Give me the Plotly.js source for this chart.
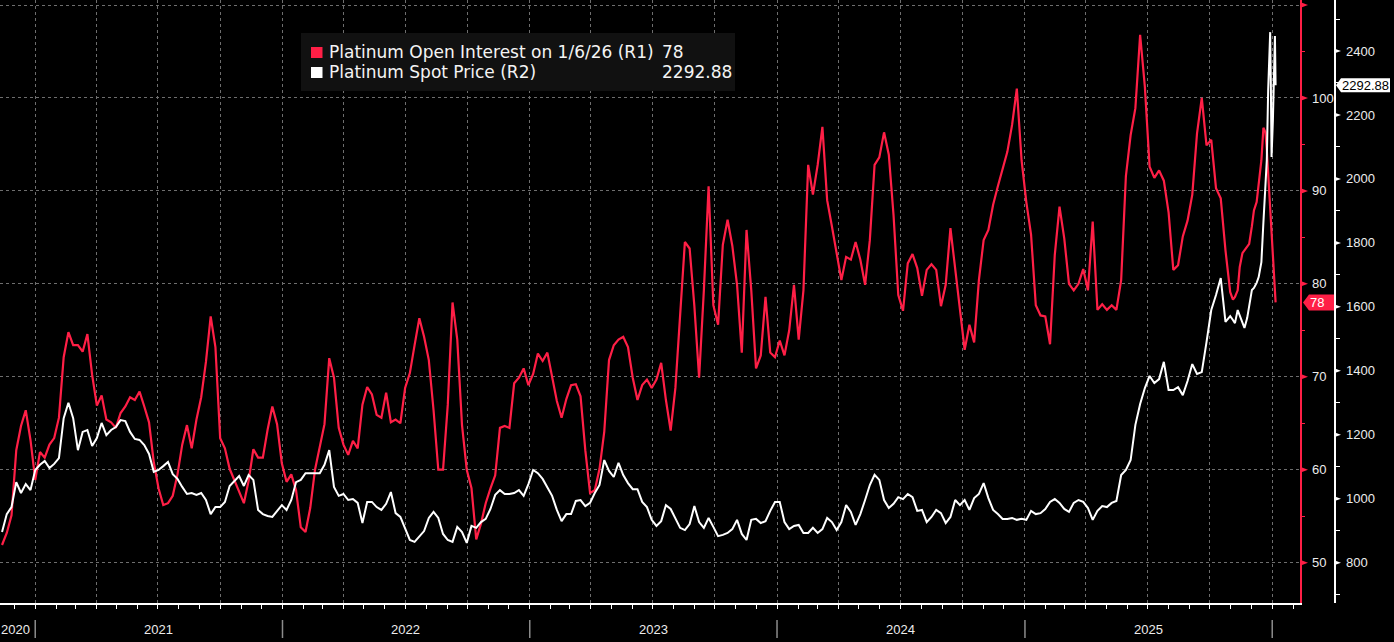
<!DOCTYPE html>
<html>
<head>
<meta charset="utf-8">
<script src="https://cdn.plot.ly/plotly-3.0.1.min.js"></script>
<style>
html,body{margin:0;padding:0;background:#000;overflow:hidden;}
#chart{width:1394px;height:642px;}
</style>
</head>
<body>
<div id="chart"></div>
<script>
// ---------------- DATA ----------------
// weekly samples (Fridays) starting at this date
const weeklyStart = '2020-11-13';

// Platinum Open Interest (R1), weekly
const openInterestWeekly = [
  51.9, 53.2, 55.1, 62.1, 64.7, 66.4, 63.2, 58.9, 61.9, 61.3,
  62.7, 63.4, 65.6, 72.1, 74.8, 73.4, 73.4, 72.7, 74.6, 70.2,
  66.9, 68.0, 65.4, 65.1, 64.5, 66.1, 66.8, 67.8, 67.5, 68.4,
  66.8, 65.1, 60.8, 58.0, 56.2, 56.4, 57.2, 59.5, 62.7, 64.8,
  62.3, 65.4, 67.8, 71.6, 76.5, 73.2, 63.4, 62.3, 60.1, 58.8,
  57.5, 56.4, 58.8, 62.2, 61.3, 61.3, 64.3, 66.8, 64.9, 60.7,
  58.7, 59.5, 57.8, 53.8, 53.3, 55.9, 60.0, 62.3, 64.9, 72.0,
  69.9, 64.5, 62.7, 61.6, 63.1, 62.3, 67.0, 68.9, 68.1, 65.9,
  65.6, 68.3, 65.1, 65.4, 65.0, 68.8, 70.4, 73.4, 76.3, 74.3,
  71.8, 66.4, 60.0, 60.0, 67.0, 78.0, 74.0, 64.8, 60.0, 58.0,
  52.5, 54.2, 56.4, 58.0, 59.4, 64.5, 64.7, 64.5, 69.3, 69.9,
  70.9, 69.1, 70.3, 72.5, 71.7, 72.6, 69.8, 67.4, 65.6, 67.6,
  69.1, 69.2, 67.9, 62.1, 57.5, 57.8, 60.1, 64.1, 71.8, 73.4,
  74.0, 74.3, 73.2, 69.9, 67.5, 69.1, 69.7, 68.8, 69.7, 71.5,
  67.5, 64.2, 68.8, 76.9, 84.5, 83.8, 77.6, 69.9, 79.3, 90.5,
  77.7, 75.6, 84.2, 86.9, 84.1, 79.9, 72.6, 85.8, 79.3, 70.9,
  72.3, 78.6, 72.6, 72.1, 73.9, 72.3, 75.0, 79.9, 74.0, 79.3,
  92.8, 89.6, 92.8, 96.9, 89.0, 86.2, 83.1, 80.4, 82.9, 82.6,
  84.5, 82.6, 79.9, 84.7, 92.8, 93.6, 96.3, 93.9, 87.4, 78.8,
  77.1, 82.2, 83.2, 81.7, 78.7, 81.5, 82.1, 81.5, 77.6, 79.9,
  86.0, 81.5, 77.0, 72.9, 75.6, 73.7, 80.4, 84.7, 85.8, 88.5,
  90.5, 92.5, 94.2, 97.1, 101.0, 93.3, 88.8, 85.3, 77.7, 76.6,
  76.5, 73.5, 83.1, 88.3, 84.9, 80.0, 79.3, 80.0, 81.6, 79.3,
  86.7, 77.2, 77.8, 77.2, 77.7, 77.2, 80.4, 91.6, 96.0, 98.9,
  106.8, 101.2, 92.6, 91.4, 92.2, 91.1, 87.7, 81.5, 82.0, 85.1,
  86.8, 89.6, 96.2, 100.0, 94.9, 95.5, 90.3, 89.2, 83.6, 79.1
];

// Platinum Spot Price (R2), weekly
const spotWeekly = [
  896, 952, 974, 1052, 1018, 1046, 1027, 1090, 1106, 1118,
  1096, 1109, 1127, 1252, 1300, 1252, 1152, 1209, 1215, 1165,
  1190, 1237, 1199, 1215, 1224, 1246, 1243, 1209, 1187, 1184,
  1168, 1140, 1084, 1090, 1102, 1115, 1077, 1062, 1037, 1015,
  1018, 1012, 1018, 996, 952, 974, 974, 990, 1040, 1055,
  1071, 1040, 1074, 1059, 965, 952, 946, 943, 962, 980,
  965, 996, 1052, 1059, 1080, 1080, 1080, 1080, 1106, 1152,
  1037, 1009, 1015, 996, 999, 987, 924, 990, 990, 974,
  965, 984, 1021, 955, 943, 909, 871, 865, 883, 899,
  940, 959, 940, 890, 871, 865, 912, 896, 862, 915,
  909, 927, 937, 968, 1012, 1027, 1015, 1015, 1018, 1027,
  1009, 1046, 1090, 1080, 1062, 1037, 1009, 965, 930, 952,
  952, 993, 996, 977, 987, 1018, 1043, 1121, 1087, 1068,
  1112, 1074, 1049, 1030, 1030, 990, 974, 934, 915, 930,
  980, 968, 937, 909, 902, 921, 977, 927, 909, 940,
  912, 883, 887, 893, 905, 934, 890, 871, 934, 937,
  924, 930, 962, 990, 990, 927, 905, 915, 918, 893,
  893, 909, 893, 905, 940, 927, 902, 927, 980, 959,
  918, 952, 996, 1043, 1075, 1059, 996, 971, 984, 1005,
  999, 1015, 1005, 962, 965, 927, 943, 965, 955, 924,
  943, 996, 980, 996, 965, 1002, 1015, 1049, 1002, 965,
  952, 937, 937, 940, 934, 937, 934, 962, 952, 955,
  968, 990, 999, 987, 968, 959, 987, 996, 990, 971,
  934, 962, 977, 974, 987, 993, 1074, 1090, 1121, 1231,
  1296, 1346, 1384, 1362, 1374, 1428, 1340, 1340, 1349, 1324,
  1368, 1421, 1390, 1396, 1490, 1590, 1637, 1690, 1553, 1571
];

// last weeks, sampled more densely
const tailDates = [
  '2025-11-04','2025-11-07','2025-11-11','2025-11-14','2025-11-18','2025-11-21',
  '2025-11-25','2025-11-28','2025-12-02','2025-12-05','2025-12-09','2025-12-12',
  '2025-12-16','2025-12-19','2025-12-22','2025-12-24','2025-12-26','2025-12-29',
  '2025-12-30','2025-12-31','2026-01-02','2026-01-05','2026-01-06'
];
const openInterestTail = [
  78.3, 78.6, 79.3, 81.8, 83.3, 83.6, 84.0, 84.3, 86.2, 87.9, 88.8, 90.8,
  93.3, 96.8, 96.3, 94.4, 91.7, 89.0, 87.6, 85.8, 83.6, 79.3, 78.0
];
const spotTail = [
  1559, 1549, 1590, 1571, 1553, 1534, 1565, 1606, 1653, 1659, 1675, 1693,
  1740, 1865, 1975, 2059, 2278, 2459, 2291, 2069, 2184, 2447, 2292.88
];

const oiTicks = [50, 60, 70, 80, 90, 100, 110];
const spotTicks = [800, 1000, 1200, 1400, 1600, 1800, 2000, 2200, 2400];
const yearLabels = ['2021', '2022', '2023', '2024', '2025'];
const yearLabelDates = ['2021-07-02', '2022-07-02', '2023-07-02', '2024-07-02', '2025-07-02'];
const partialYearLabel = '2020';
const yearStarts = ['2021-01-01', '2022-01-01', '2023-01-01', '2024-01-01', '2025-01-01', '2026-01-01'];
const seriesNames = ['Platinum Open Interest on 1/6/26 (R1)', 'Platinum Spot Price (R2)'];

// ---------------- BUILD ----------------
const weeklyDates = [];
{
  const d0 = new Date(weeklyStart + 'T00:00:00Z');
  for (let i = 0; i < openInterestWeekly.length; i++) {
    const d = new Date(d0.getTime() + i * 7 * 86400000);
    weeklyDates.push(d.toISOString().slice(0, 10));
  }
}
const dates = weeklyDates.concat(tailDates);
const oi = openInterestWeekly.concat(openInterestTail);
const spot = spotWeekly.concat(spotTail);

const lastOI = oi[oi.length - 1];
const lastSpot = spot[spot.length - 1];

const RED = '#ff1f46';
const W = 1394;
const PLOT_H = 603;
const xRight = 1300 / W;
const spotAxisPos = 1334 / W;
const FONT = 'Liberation Sans, Arial, sans-serif';
const LEGEND_FONT = 'DejaVu Sans, Liberation Sans, sans-serif';
const TXT = '#ececec';
const py = p => (PLOT_H - p) / PLOT_H; // pixel row -> paper y
const px = p => p / W;

const traces = [
  {x: dates, y: oi, type: 'scatter', mode: 'lines', yaxis: 'y',
   line: {color: RED, width: 2.2}, hoverinfo: 'skip', name: seriesNames[0]},
  {x: dates, y: spot, type: 'scatter', mode: 'lines', yaxis: 'y2',
   line: {color: '#ffffff', width: 2}, hoverinfo: 'skip', name: seriesNames[1]}
];

const shapes = [];
const annotations = [];

// triangle tick markers
oiTicks.forEach(v => shapes.push({
  type: 'path', xref: 'paper', xsizemode: 'pixel', xanchor: xRight,
  yref: 'y', ysizemode: 'pixel', yanchor: v,
  path: 'M0,3 L8,0 L0,-3 Z', fillcolor: RED, line: {width: 0}
}));
spotTicks.forEach(v => shapes.push({
  type: 'path', xref: 'paper', xsizemode: 'pixel', xanchor: spotAxisPos,
  yref: 'y2', ysizemode: 'pixel', yanchor: v,
  path: 'M0,2.5 L7,0 L0,-2.5 Z', fillcolor: '#ffffff', line: {width: 0}
}));

// last value flags
shapes.push({
  type: 'path', xref: 'paper', xsizemode: 'pixel', xanchor: xRight,
  yref: 'y', ysizemode: 'pixel', yanchor: lastOI,
  path: 'M3,0 L9,8 L34,8 L34,-8 L9,-8 Z', fillcolor: RED, line: {width: 0}
});
annotations.push({
  xref: 'paper', x: px(1317), yref: 'y', y: lastOI, text: String(lastOI),
  showarrow: false, xanchor: 'center', yanchor: 'middle',
  font: {family: FONT, size: 13, color: '#ffffff'}
});
shapes.push({
  type: 'path', xref: 'paper', xsizemode: 'pixel', xanchor: spotAxisPos,
  yref: 'y2', ysizemode: 'pixel', yanchor: lastSpot,
  path: 'M2,0 L7,7 L56,7 L56,-7 L7,-7 Z', fillcolor: '#ffffff', line: {width: 0}
});
annotations.push({
  xref: 'paper', x: px(1365.5), yref: 'y2', y: lastSpot, text: lastSpot.toFixed(2),
  showarrow: false, xanchor: 'center', yanchor: 'middle',
  font: {family: FONT, size: 13, color: '#000000'}
});

// year separators & labels
yearStarts.forEach(d => shapes.push({
  type: 'line', xref: 'x', x0: d, x1: d, yref: 'paper', y0: py(620), y1: py(638),
  line: {color: '#8c8c8c', width: 1.5}
}));
yearLabels.forEach((t, i) => annotations.push({
  xref: 'x', x: yearLabelDates[i], yref: 'paper', y: py(629), text: t,
  showarrow: false, xanchor: 'center', yanchor: 'middle',
  font: {family: FONT, size: 13, color: TXT}
}));
annotations.push({
  xref: 'paper', x: 0, yref: 'paper', y: py(629), text: partialYearLabel,
  showarrow: false, xanchor: 'left', yanchor: 'middle', borderpad: 0,
  font: {family: FONT, size: 13, color: TXT}
});

// legend
shapes.push({
  type: 'rect', xref: 'paper', yref: 'paper',
  x0: px(301), x1: px(735), y0: py(91), y1: py(33),
  fillcolor: '#111111', line: {width: 0}
});
const legendColors = [RED, '#ffffff'];
const legendRows = [52.5, 72.5];
const legendValues = [String(lastOI), lastSpot.toFixed(2)];
legendRows.forEach((r, i) => {
  shapes.push({
    type: 'rect', xref: 'paper', yref: 'paper',
    x0: px(311), x1: px(322.5), y0: py(r + 5.5), y1: py(r - 5.5),
    fillcolor: legendColors[i], line: {width: 0}
  });
  annotations.push({
    xref: 'paper', x: px(327), yref: 'paper', y: py(r), text: seriesNames[i],
    showarrow: false, xanchor: 'left', yanchor: 'middle',
    font: {family: LEGEND_FONT, size: 17, color: '#f4f4f4'}
  });
  annotations.push({
    xref: 'paper', x: px(660), yref: 'paper', y: py(r), text: legendValues[i],
    showarrow: false, xanchor: 'left', yanchor: 'middle',
    font: {family: LEGEND_FONT, size: 17, color: '#f4f4f4'}
  });
});

const layout = {
  width: 1394, height: 642,
  paper_bgcolor: '#000000', plot_bgcolor: '#000000',
  margin: {l: 0, r: 0, t: 0, b: 39, pad: 0},
  showlegend: false,
  font: {family: FONT, size: 13, color: TXT},
  xaxis: {
    type: 'date', range: ['2020-11-10', '2026-02-11'], domain: [0, xRight],
    tickmode: 'linear', tick0: '2021-01-01', dtick: 'M3',
    showticklabels: false, ticks: 'outside', ticklen: 4, tickcolor: '#ffffff', tickwidth: 1,
    showline: true, linecolor: '#ffffff', linewidth: 1.5,
    showgrid: true, gridcolor: '#6e6e6e', griddash: 'dot', gridwidth: 1,
    minor: {tickmode: 'linear', tick0: '2021-01-01', dtick: 'M1', ticks: 'outside', ticklen: 4,
            tickcolor: '#ffffff', tickwidth: 1, showgrid: false},
    zeroline: false, fixedrange: true
  },
  yaxis: {
    side: 'right', anchor: 'x', range: [45.66, 110.54],
    tickmode: 'linear', tick0: 0, dtick: 10,
    ticks: 'outside', ticklen: 8, tickcolor: 'rgba(0,0,0,0)',
    tickfont: {family: FONT, size: 13, color: TXT},
    showline: true, linecolor: RED, linewidth: 1.5,
    showgrid: true, gridcolor: '#6e6e6e', griddash: 'dot', gridwidth: 1,
    minor: {tickmode: 'linear', tick0: 5, dtick: 10, ticks: 'outside', ticklen: 3,
            tickcolor: RED, tickwidth: 1, showgrid: false},
    zeroline: false, fixedrange: true
  },
  yaxis2: {
    overlaying: 'y', side: 'right', anchor: 'free', position: spotAxisPos,
    range: [674, 2559.5], tickmode: 'linear', tick0: 0, dtick: 200, tickformat: 'd',
    ticks: 'outside', ticklen: 8, tickcolor: 'rgba(0,0,0,0)',
    tickfont: {family: FONT, size: 13, color: TXT},
    showline: true, linecolor: '#ffffff', linewidth: 1.5, showgrid: false,
    minor: {tickmode: 'linear', tick0: 100, dtick: 200, ticks: 'outside', ticklen: 4,
            tickcolor: '#ffffff', tickwidth: 1, showgrid: false},
    zeroline: false, fixedrange: true
  },
  shapes: shapes,
  annotations: annotations
};

Plotly.newPlot('chart', traces, layout, {displayModeBar: false, staticPlot: true});
</script>
</body>
</html>
